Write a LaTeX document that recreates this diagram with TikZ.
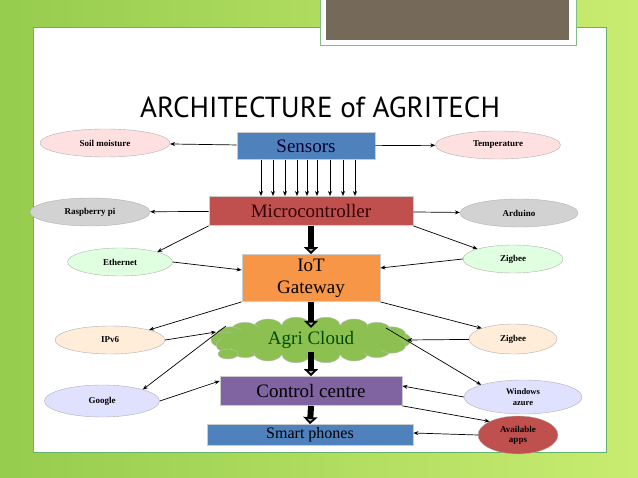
\documentclass[tikz,border=0pt]{standalone}
\usepackage{fontspec}
\setmainfont{Liberation Serif}
\newfontfamily\titlefont{PT Sans}
\usetikzlibrary{shapes.geometric,shapes.symbols,arrows.meta}
\definecolor{bgL}{HTML}{96CC4E}
\definecolor{bgR}{HTML}{C8EC70}
\definecolor{tab}{HTML}{756A5A}
\definecolor{sblue}{HTML}{4F81BD}
\definecolor{mred}{HTML}{C0504D}
\definecolor{iorange}{HTML}{F79646}
\definecolor{cgreen}{HTML}{8CC152}
\definecolor{cpurple}{HTML}{8064A2}
\tikzset{
 box/.style={draw=white!80!black,line width=0.8pt,minimum width=#1,font=\fontsize{19}{20}\selectfont,inner sep=1pt},
 oval/.style={ellipse,draw=gray!60,minimum width=#1,minimum height=28pt,inner sep=0pt,font=\bfseries\fontsize{9}{10}\selectfont},
 conn/.style={-{Stealth[length=5pt,width=4pt]},line width=0.7pt},
 big/.style={-{Triangle[length=7pt,width=14pt,fill=gray!60]},line width=6pt,draw=black},
}
\begin{document}
\begin{tikzpicture}[x=1pt,y=-1pt]
\useasboundingbox (0,0) rectangle (638,478);
\shade[left color=bgL,right color=bgR] (0,0) rectangle (638,478);
\fill[white,draw=green!50!black!60,line width=1pt] (33,28) rectangle (606,453);
\fill[white,draw=green!50!black!50,line width=1pt] (320,-2) rectangle (576,46);
\fill[tab] (326,-2) rectangle (569,40);
\node[font=\titlefont\fontsize{29}{30}\selectfont] (title) at (320,107) {ARCHITECTURE of AGRITECH};

\node[box=138pt,minimum height=27pt,fill=sblue,text=black!80!blue] (sens) at (306,146) {Sensors};
\node[box=204pt,minimum height=29pt,fill=mred,text=black!80!red] (mc) at (311,211) {Microcontroller};
\node[box=138pt,minimum height=47pt,fill=iorange,align=center,font=\fontsize{19}{22}\selectfont] (iot) at (311,278) {IoT\\Gateway};
% cloud bumps
\foreach \a in {0,20,...,340}
  \fill[cgreen,draw=white!75!black] (311,340) ++(\a:86pt and 15pt) circle[x radius=14pt,y radius=8pt];
\fill[cgreen,draw=white!75!black] (228,354) circle[x radius=10pt,y radius=5pt];
\node[ellipse,fill=cgreen,minimum width=180pt,minimum height=32pt,inner sep=0pt,font=\fontsize{19}{20}\selectfont,text=black!70!green] (cloud) at (311,340) {Agri Cloud};
\node[box=182pt,minimum height=29pt,fill=cpurple] (cc) at (311,391) {Control centre};
\node[box=206pt,minimum height=21pt,fill=sblue,font=\fontsize{16}{17}\selectfont] (sp) at (310,435) {Smart phones};

\node[oval=130pt,fill=red!12] (soil) at (105,143) {Soil moisture};
\node[oval=125pt,fill=red!12] (temp) at (498,145) {Temperature};
\node[oval=120pt,fill=gray!35] (rasp) at (90,212) {Raspberry pi};
\node[oval=118pt,fill=gray!35] (ard) at (519,213) {Arduino};
\node[oval=105pt,fill=green!12] (eth) at (120,262) {Ethernet};
\node[oval=100pt,fill=green!12] (zig1) at (513,259) {Zigbee};
\node[oval=110pt,fill=orange!15] (ipv) at (110,340) {IPv6};
\node[oval=88pt,minimum height=30pt,fill=orange!15] (zig2) at (513,339) {Zigbee};
\node[oval=115pt,minimum height=32pt,fill=blue!12] (goo) at (102,401) {Google};
\node[oval=118pt,minimum height=34pt,fill=blue!12,align=center,font=\bfseries\fontsize{8.5}{11}\selectfont] (win) at (523,397) {Windows\\azure};
\node[oval=80pt,minimum height=38pt,fill=mred,align=center,font=\bfseries\fontsize{9}{10}\selectfont] (app) at (518,435) {Available\\apps};

\draw[conn] (sens) -- (soil);
\draw[conn] (sens) -- (temp);
\foreach \x in {261,273,285,297,307,317,330,343,355}
  \draw[conn] (\x,160) -- (\x,196);
\draw[conn] (mc) -- (rasp);
\draw[conn] (mc) -- (ard);
\draw[conn] (mc.south west) -- (eth.north east);
\draw[conn] (mc.south east) -- (zig1.north west);
\draw[conn] (eth.east) -- ([yshift=8pt]iot.west);
\draw[conn] (zig1.west) -- ([yshift=10pt]iot.east);
\draw[conn] (iot.south west) -- (ipv.north east);
\draw[conn] (iot.south east) -- (zig2.north west);
\draw[conn] (ipv.east) -- ([xshift=-95pt,yshift=8pt]cloud.center);
\draw[conn] (zig2) -- ([xshift=6pt]cloud.east);
\draw[conn] ([xshift=-85pt,yshift=14pt]cloud.center) -- (goo.north east);
\draw[conn] ([xshift=75pt,yshift=12pt]cloud.center) -- (win.north west);
\draw[conn] (goo.east) -- ([yshift=10pt]cc.west);
\draw[conn] (win.west) -- ([yshift=5pt]cc.east);
\draw[conn] (cc.south east) -- (app.north west);
\draw[conn] (app.west) -- ([yshift=2pt]sp.east);

\draw[big] (mc.south) -- (iot.north);
\draw[big] (iot.south) -- ([yshift=-4pt]cloud.north);
\draw[big] ([yshift=4pt]cloud.south) -- (cc.north);
\draw[big] (cc.south) -- (sp.north);
\end{tikzpicture}
\end{document}
